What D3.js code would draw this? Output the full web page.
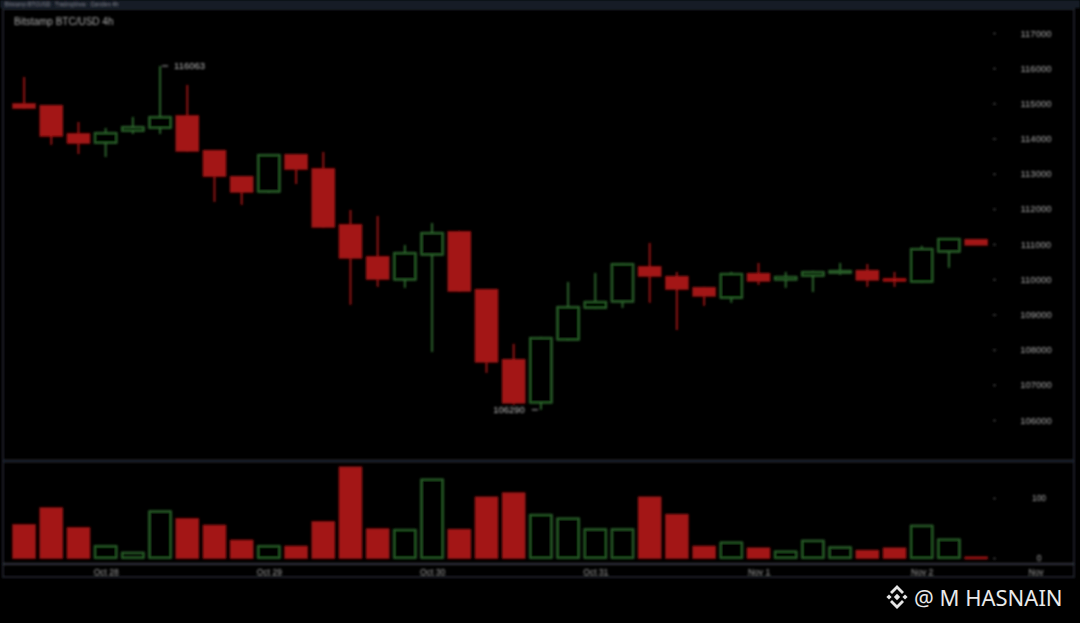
<!DOCTYPE html>
<html>
<head>
<meta charset="utf-8">
<script src="https://cdn.jsdelivr.net/npm/d3@7"></script>
<style>
  body { margin: 0; background: #000; }
  svg { display: block; }
</style>
</head>
<body>
<svg id="chart" width="1080" height="623"></svg>
<script>
// Bitstamp BTC/USD, 4h candles from Oct 27 12:00
const startTime = new Date(2025, 9, 27, 12);
const barHours = 4;

const opens  = [114980, 114930, 114130, 113875, 114215, 114300, 114640, 113650, 112910, 112485, 113535, 113135,
                111545, 110635, 109985, 110695, 111345, 109700, 107710, 106490, 108280, 109185, 109360, 110350,
                110070, 109755, 109470, 110155, 109985, 110095, 110180, 110240, 110010, 109925, 110780, 111120];
const highs  = [115750, 114950, 114470, 114300, 114615, 116063, 115525, 113675, 112935, 113560, 113560, 113620,
                111970, 111800, 110975, 111600, 111375, 109725, 108165, 108365, 109925, 110180, 110465, 111035,
                110210, 109785, 110210, 110465, 110210, 110240, 110465, 110435, 110210, 110950, 111175, 111120];
const lows   = [114840, 113820, 113560, 113475, 114130, 114130, 113620, 112200, 112115, 112455, 112710, 111460,
                109275, 109785, 109755, 107935, 109640, 107340, 106430, 106290, 108250, 109160, 109185, 109330,
                108560, 109245, 109330, 109840, 109755, 109640, 110125, 109785, 109785, 109900, 110325, 110975];
const closes = [114870, 114075, 113875, 114160, 114330, 114615, 113650, 112935, 112485, 113535, 113135, 111490,
                110610, 110010, 110750, 111320, 109670, 107655, 106490, 108335, 109215, 109360, 110435, 110095,
                109725, 109530, 110155, 109955, 110070, 110210, 110240, 109985, 109955, 110865, 111150, 110980];
const volumes = [55, 83, 50, 20, 9, 78, 65, 54, 29, 20, 19, 60,
                 151, 48, 47, 131, 47, 101, 108, 72, 66, 48, 48, 101,
                 72, 19, 26, 16, 11, 29, 18, 12, 16, 54, 31, 1];

const priceTicks = d3.range(106000, 117001, 1000);
const volumeTicks = [0, 100];
const title = "Bitstamp BTC/USD 4h";

const RED = "#a31313";
const GREEN = "#2f6c2f";

const svg = d3.select("#chart");
const barTime = k => new Date(startTime.getTime() + k * barHours * 3600e3);
const times = opens.map((_, i) => barTime(i));

const x = d3.scaleTime().domain([barTime(-0.59), barTime(35.51)]).range([8, 990]);
const yPrice = d3.scaleLinear().domain([106000, 117000]).range([420, 33]);
const yVol = d3.scaleLinear().domain([0, 100]).range([558, 498]);
const step = x(barTime(1)) - x(barTime(0));
const bodyW = step * 0.86;

// blur to mimic the soft screenshot
const defs = svg.append("defs");
defs.append("filter").attr("id", "soft")
  .attr("x", "-5%").attr("y", "-5%").attr("width", "110%").attr("height", "110%")
  .append("feGaussianBlur").attr("stdDeviation", 0.8);

svg.append("rect").attr("width", 1080).attr("height", 623).attr("fill", "#000");

const g = svg.append("g").attr("filter", "url(#soft)");

// top strip
g.append("rect").attr("x", 0).attr("y", 0).attr("width", 1080).attr("height", 8).attr("fill", "#151a25");
g.append("text").attr("x", 5).attr("y", 6)
  .attr("font-family", "Liberation Sans, Arial, sans-serif").attr("font-size", 5.5).attr("fill", "#7d828c")
  .text("Bitstamp:BTCUSD · TradingView · Candles 4h");

// frame and separators
g.append("rect").attr("x", 3).attr("y", 9).attr("width", 1071).attr("height", 568)
  .attr("fill", "none").attr("stroke", "#1d222c").attr("stroke-width", 2);
g.append("line").attr("x1", 3).attr("x2", 1074).attr("y1", 461).attr("y2", 461)
  .attr("stroke", "#1f242e").attr("stroke-width", 3);
g.append("line").attr("x1", 3).attr("x2", 1074).attr("y1", 564).attr("y2", 564)
  .attr("stroke", "#30353f").attr("stroke-width", 2);

g.append("text").attr("x", 14).attr("y", 25)
  .attr("font-family", "Liberation Sans, Arial, sans-serif").attr("font-size", 10).attr("fill", "#aaaaaa")
  .text(title);

// candles
const candles = g.append("g").selectAll("g").data(times).join("g");
candles.append("line")
  .attr("x1", (d) => x(d)).attr("x2", (d) => x(d))
  .attr("y1", (d, i) => yPrice(highs[i])).attr("y2", (d, i) => yPrice(lows[i]))
  .attr("stroke", (d, i) => closes[i] >= opens[i] ? GREEN : RED)
  .attr("stroke-width", 1.8);
candles.append("rect")
  .attr("x", (d) => x(d) - bodyW / 2 + 0.8)
  .attr("width", bodyW - 1.6)
  .attr("y", (d, i) => yPrice(Math.max(opens[i], closes[i])))
  .attr("height", (d, i) => Math.max(2, Math.abs(yPrice(opens[i]) - yPrice(closes[i]))))
  .attr("fill", (d, i) => closes[i] >= opens[i] ? "#000" : RED)
  .attr("stroke", (d, i) => closes[i] >= opens[i] ? GREEN : RED)
  .attr("stroke-width", 1.7);

// volume
g.append("g").selectAll("rect").data(times).join("rect")
  .attr("x", (d) => x(d) - bodyW / 2 + 0.8)
  .attr("width", bodyW - 1.6)
  .attr("y", (d, i) => yVol(volumes[i]))
  .attr("height", (d, i) => Math.max(1, yVol(0) - yVol(volumes[i])))
  .attr("fill", (d, i) => closes[i] >= opens[i] ? "#000" : RED)
  .attr("stroke", (d, i) => closes[i] >= opens[i] ? GREEN : RED)
  .attr("stroke-width", 1.7);

// high / low markers
const labelFont = "Liberation Sans, Arial, sans-serif";
const hi = d3.maxIndex(highs), lo = d3.minIndex(lows);
g.append("line").attr("x1", x(times[hi]) + 2).attr("x2", x(times[hi]) + 8)
  .attr("y1", yPrice(highs[hi])).attr("y2", yPrice(highs[hi])).attr("stroke", "#aaa").attr("stroke-width", 1);
g.append("text").attr("x", x(times[hi]) + 14).attr("y", yPrice(highs[hi]) + 3.5)
  .attr("font-family", labelFont).attr("font-size", 9.5).attr("fill", "#b8b8b8")
  .text(highs[hi]);
g.append("line").attr("x1", x(times[lo]) - 9).attr("x2", x(times[lo]) - 3)
  .attr("y1", yPrice(lows[lo])).attr("y2", yPrice(lows[lo])).attr("stroke", "#aaa").attr("stroke-width", 1);
g.append("text").attr("x", x(times[lo]) - 16).attr("y", yPrice(lows[lo]) + 3.5)
  .attr("text-anchor", "end")
  .attr("font-family", labelFont).attr("font-size", 9.5).attr("fill", "#b8b8b8")
  .text(lows[lo]);

// price axis
const priceAxis = g.append("g").attr("transform", "translate(993,0)")
  .call(d3.axisRight(yPrice).tickValues(priceTicks).tickSize(3).tickFormat(d3.format("d")));
priceAxis.select(".domain").remove();
priceAxis.selectAll(".tick line").attr("stroke", "#333").attr("stroke-width", 2);
priceAxis.selectAll(".tick text").attr("x", 43).attr("text-anchor", "middle")
  .attr("font-family", labelFont).attr("font-size", 9.5).attr("fill", "#a8a8a8");

// volume axis
const volAxis = g.append("g").attr("transform", "translate(993,0)")
  .call(d3.axisRight(yVol).tickValues(volumeTicks).tickSize(3).tickFormat(d3.format("d")));
volAxis.select(".domain").remove();
volAxis.selectAll(".tick line").attr("stroke", "#333").attr("stroke-width", 2);
volAxis.selectAll(".tick text").attr("x", 46).attr("text-anchor", "middle")
  .attr("font-family", labelFont).attr("font-size", 8.5).attr("fill", "#a8a8a8");

// time axis
const timeAxis = g.append("g").attr("transform", "translate(0,564)")
  .call(d3.axisBottom(x).ticks(d3.timeDay.every(1)).tickSize(0).tickFormat(d3.timeFormat("%b %-d")));
timeAxis.select(".domain").remove();
timeAxis.selectAll(".tick text").attr("dy", "0.95em")
  .attr("font-family", labelFont).attr("font-size", 8.5).attr("fill", "#a0a0a0");
g.append("text").attr("x", 1036).attr("y", 575).attr("text-anchor", "middle")
  .attr("font-family", labelFont).attr("font-size", 8.5).attr("fill", "#a0a0a0").text("Nov");

// watermark
const wm = svg.append("g").attr("transform", "translate(897,597)").attr("fill", "#e6e6e6");
const diamond = (cx, cy, r) => `M${cx},${cy - r}L${cx + r},${cy}L${cx},${cy + r}L${cx - r},${cy}Z`;
wm.append("path").attr("d", diamond(0, 0, 3.2));
[[-8, 0], [8, 0]].forEach(([dx, dy]) => wm.append("path").attr("d", diamond(dx, dy, 2.6)));
wm.append("path").attr("d", "M0,-12L7,-5L5,-3L0,-8L-5,-3L-7,-5Z");
wm.append("path").attr("d", "M0,12L7,5L5,3L0,8L-5,3L-7,5Z");
svg.append("text").attr("x", 914).attr("y", 606)
  .attr("font-family", "Noto Sans, sans-serif").attr("font-size", 22).attr("fill", "#eaeaea")
  .text("@ M HASNAIN");
</script>
</body>
</html>
